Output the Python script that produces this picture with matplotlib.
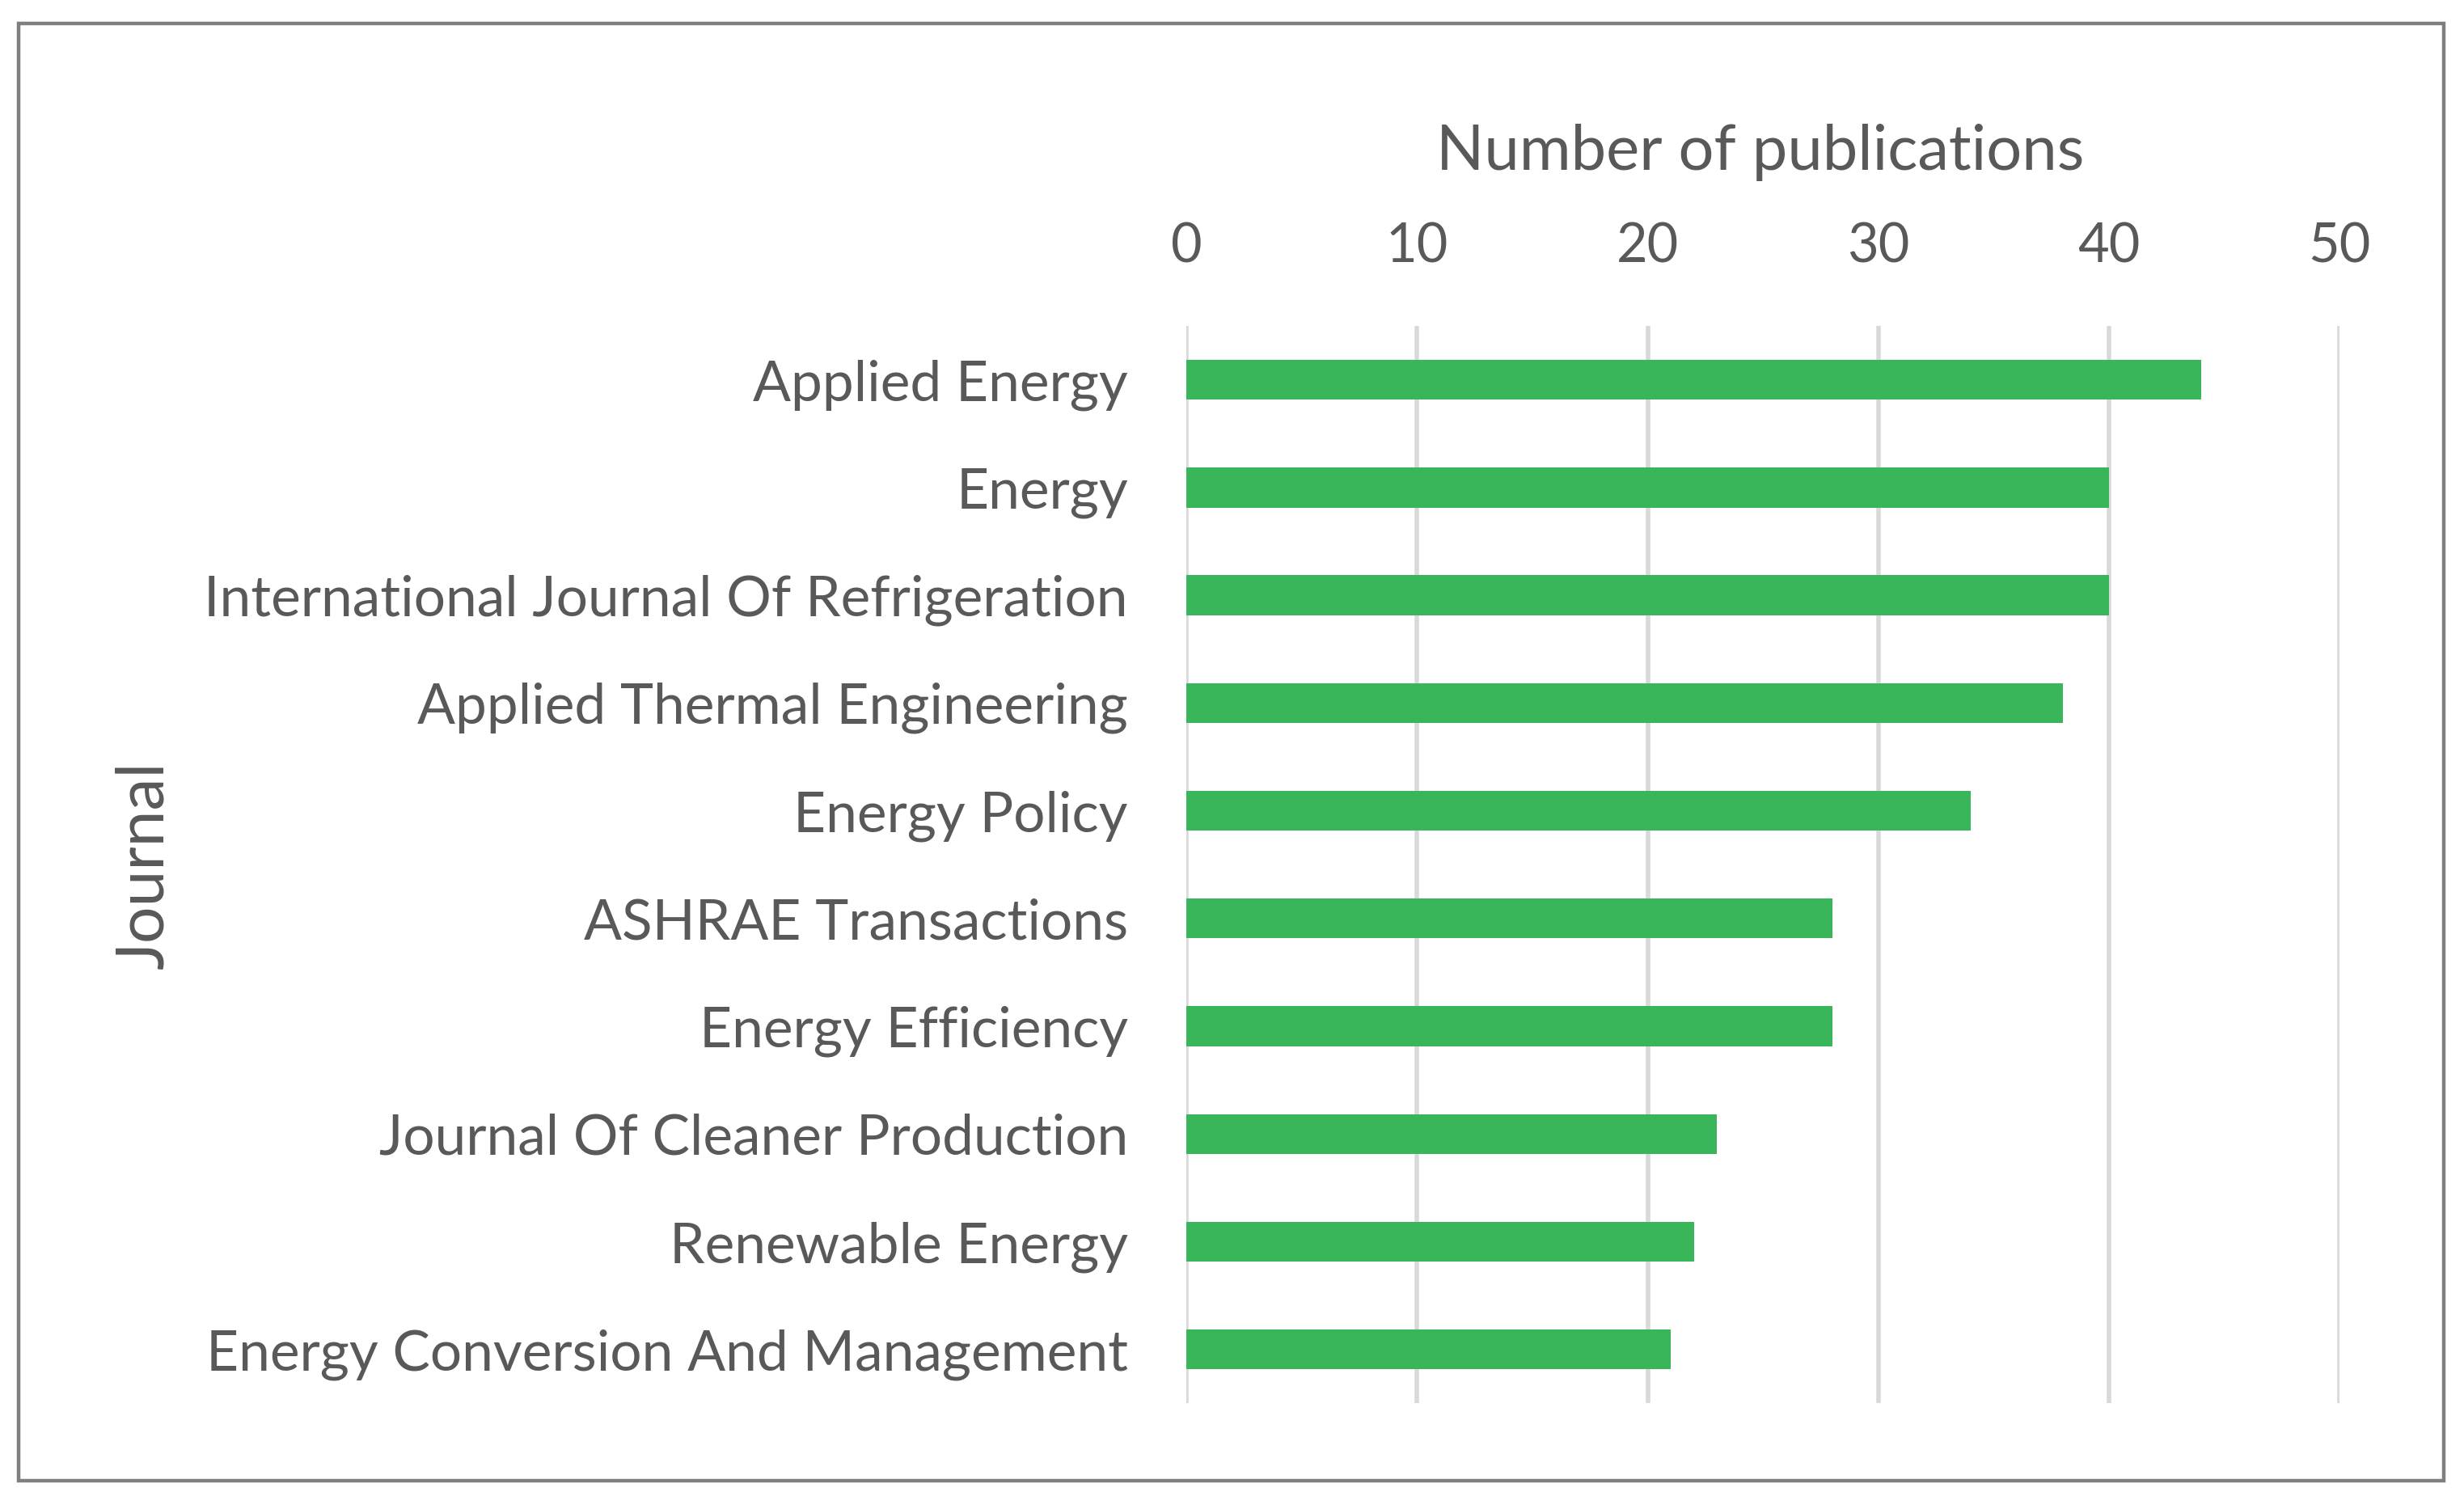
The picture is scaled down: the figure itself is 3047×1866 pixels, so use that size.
import matplotlib
matplotlib.use('Agg')
import matplotlib.pyplot as plt
from matplotlib.patches import Rectangle

journals = [
    'Applied Energy',
    'Energy',
    'International Journal Of Refrigeration',
    'Applied Thermal Engineering',
    'Energy Policy',
    'ASHRAE Transactions',
    'Energy Efficiency',
    'Journal Of Cleaner Production',
    'Renewable Energy',
    'Energy Conversion And Management',
]
publications = [44, 40, 40, 38, 34, 28, 28, 23, 22, 21]
x_ticks = [0, 10, 20, 30, 40, 50]

text_color = '#595959'
bar_color = '#39B55A'
grid_color = '#d9d9d9'

plt.rcParams['font.family'] = ['Lato', 'DejaVu Sans']

fig = plt.figure(figsize=(3047 / 200, 1866 / 200), dpi=200)
ax = fig.add_axes([0.4815, 0.070, 0.468, 0.714])

y = list(range(len(journals)))
ax.barh(y, publications, height=0.37, color=bar_color, zorder=3)

ax.set_ylim(len(journals) - 0.5, -0.5)
ax.set_xlim(0, 50)
ax.set_xticks(x_ticks)
ax.set_yticks(y)
ax.set_yticklabels(journals)

ax.xaxis.tick_top()
ax.tick_params(axis='x', length=0, pad=24, labelsize=24, colors=text_color)
ax.tick_params(axis='y', length=0, pad=26, labelsize=25, colors=text_color)

ax.grid(axis='x', color=grid_color, linewidth=2.0, zorder=0)
for s in ax.spines.values():
    s.set_visible(False)

fig.text(1120 / 1568, 1 - 97 / 960, 'Number of publications', ha='center', va='center',
         fontsize=28, color=text_color)
fig.text(92 / 1568, 1 - 550 / 960, 'Journal', ha='center', va='center', rotation=90,
         fontsize=29, color=text_color)

# outer frame
fig.patches.append(Rectangle((12 / 1568, 1 - 942 / 960), (1555 - 12) / 1568, (942 - 15) / 960,
                             transform=fig.transFigure, fill=False, edgecolor='#7f7f7f',
                             linewidth=1.6))

fig.savefig('out.png', dpi=200)
